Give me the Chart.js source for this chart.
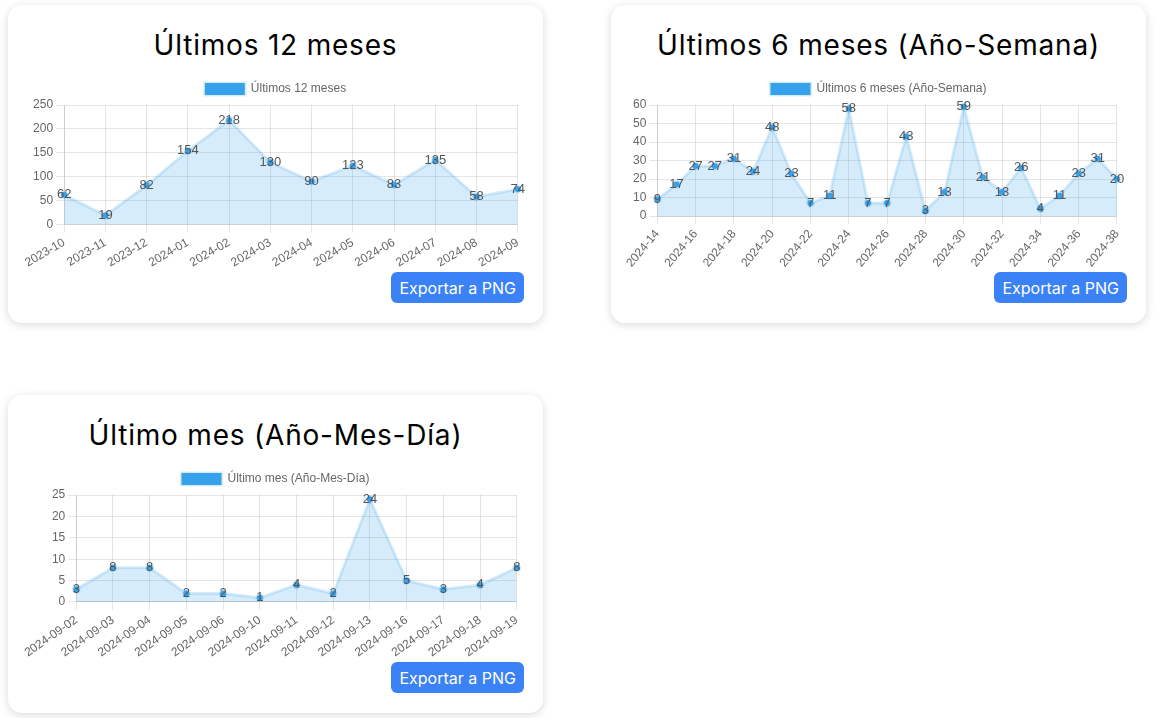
<!DOCTYPE html>
<html lang="es">
<head>
<meta charset="utf-8">
<script src="https://cdn.jsdelivr.net/npm/chart.js@4.4.1/dist/chart.umd.min.js"></script>
<style>
    body {
        margin: 0;
        background: #fff;
        font-family: "Inter", "Noto Sans", sans-serif;
    }
    .grid {
        display: grid;
        grid-template-columns: 535px 535px;
        column-gap: 68px;
        row-gap: 72px;
        padding: 5px 8px;
    }
    .card {
        height: 318px;
        box-sizing: border-box;
        border-radius: 14px;
        box-shadow: 0 2px 10px rgba(0, 0, 0, 0.15);
        padding: 20px 15px 0 15px;
        position: relative;
    }
    .card h2 {
        margin: 0;
        font-weight: 400;
        font-size: 28px;
        letter-spacing: 0.8px;
        text-align: center;
        height: 48px;
        line-height: 40px;
        color: #000;
    }
    .chart-box {
        height: 200px;
        position: relative;
    }
    .btn {
        position: absolute;
        right: 19px;
        bottom: 20px;
        background: #3b82f6;
        color: #fff;
        border: none;
        border-radius: 6px;
        font-family: inherit;
        font-size: 16px;
        padding: 6px 8px;
        height: 31px;
    }
</style>
</head>
<body>
<div class="grid">
    <div class="card">
        <h2>Últimos 12 meses</h2>
        <div class="chart-box"><canvas id="chartMeses"></canvas></div>
        <button class="btn">Exportar a PNG</button>
    </div>
    <div class="card">
        <h2>Últimos 6 meses (Año-Semana)</h2>
        <div class="chart-box"><canvas id="chartSemanas"></canvas></div>
        <button class="btn">Exportar a PNG</button>
    </div>
    <div class="card">
        <h2>Último mes (Año-Mes-Día)</h2>
        <div class="chart-box"><canvas id="chartDias"></canvas></div>
        <button class="btn">Exportar a PNG</button>
    </div>
</div>

<script>
const mesesLabels = ['2023-10', '2023-11', '2023-12', '2024-01', '2024-02', '2024-03',
    '2024-04', '2024-05', '2024-06', '2024-07', '2024-08', '2024-09'];
const mesesInfo = [62, 19, 82, 154, 218, 130, 90, 123, 83, 135, 58, 74];

const semanasLabels = ['2024-14', '2024-15', '2024-16', '2024-17', '2024-18', '2024-19',
    '2024-20', '2024-21', '2024-22', '2024-23', '2024-24', '2024-25', '2024-26', '2024-27',
    '2024-28', '2024-29', '2024-30', '2024-31', '2024-32', '2024-33', '2024-34', '2024-35',
    '2024-36', '2024-37', '2024-38'];
const semanasInfo = [9, 17, 27, 27, 31, 24, 48, 23, 7, 11, 58, 7, 7, 43, 3, 13, 59, 21, 13, 26, 4, 11, 23, 31, 20];

const diasLabels = ['2024-09-02', '2024-09-03', '2024-09-04', '2024-09-05', '2024-09-06',
    '2024-09-10', '2024-09-11', '2024-09-12', '2024-09-13', '2024-09-16', '2024-09-17',
    '2024-09-18', '2024-09-19'];
const diasInfo = [3, 8, 8, 2, 2, 1, 4, 2, 24, 5, 3, 4, 8];

const FONT = '"Liberation Sans", Arial, sans-serif';

// escribe el valor encima de cada punto
const valueLabels = {
    id: 'valueLabels',
    afterDatasetsDraw(chart) {
        const ctx = chart.ctx;
        ctx.save();
        ctx.fillStyle = '#555';
        ctx.font = '13px ' + FONT;
        ctx.textAlign = 'center';
        ctx.textBaseline = 'middle';
        chart.data.datasets.forEach((ds, i) => {
            chart.getDatasetMeta(i).data.forEach((pt, j) => {
                ctx.fillText(ds.data[j], pt.x, pt.y);
            });
        });
        ctx.restore();
    }
};

const lineChart = (id, labels = [], info = [], name = '', rotation = 30, step = undefined) => {
    const data = {
        labels: labels,
        datasets: [{
            label: name,
            data: info,
            fill: {target: 'origin', above: 'rgba(54, 162, 235, 0.2)'},
            backgroundColor: 'rgb(54, 162, 235)',
            borderColor: 'rgba(54, 162, 235, 0.2)',
            borderWidth: 3,
            pointBackgroundColor: 'rgb(54, 162, 235)',
            pointBorderColor: 'rgba(54, 162, 235, 0.2)',
            pointRadius: 3,
            tension: 0
        }]
    };

    const config = {
        type: 'line',
        data: data,
        options: {
            maintainAspectRatio: false,
            animation: false,
            plugins: {
                legend: {labels: {font: {family: FONT}}}
            },
            scales: {
                x: {ticks: {minRotation: rotation, maxRotation: rotation, font: {family: FONT, size: 12}}},
                y: {beginAtZero: true, ticks: {stepSize: step, font: {family: FONT, size: 12}}}
            }
        },
        plugins: [valueLabels]
    };

    let ctx = document.getElementById(id).getContext("2d");
    new Chart(ctx, config);
};

lineChart('chartMeses', mesesLabels, mesesInfo, 'Últimos 12 meses', 30, 50);
lineChart('chartSemanas', semanasLabels, semanasInfo, 'Últimos 6 meses (Año-Semana)', 50, 10);
lineChart('chartDias', diasLabels, diasInfo, 'Último mes (Año-Mes-Día)', 35, 5);
</script>
</body>
</html>
